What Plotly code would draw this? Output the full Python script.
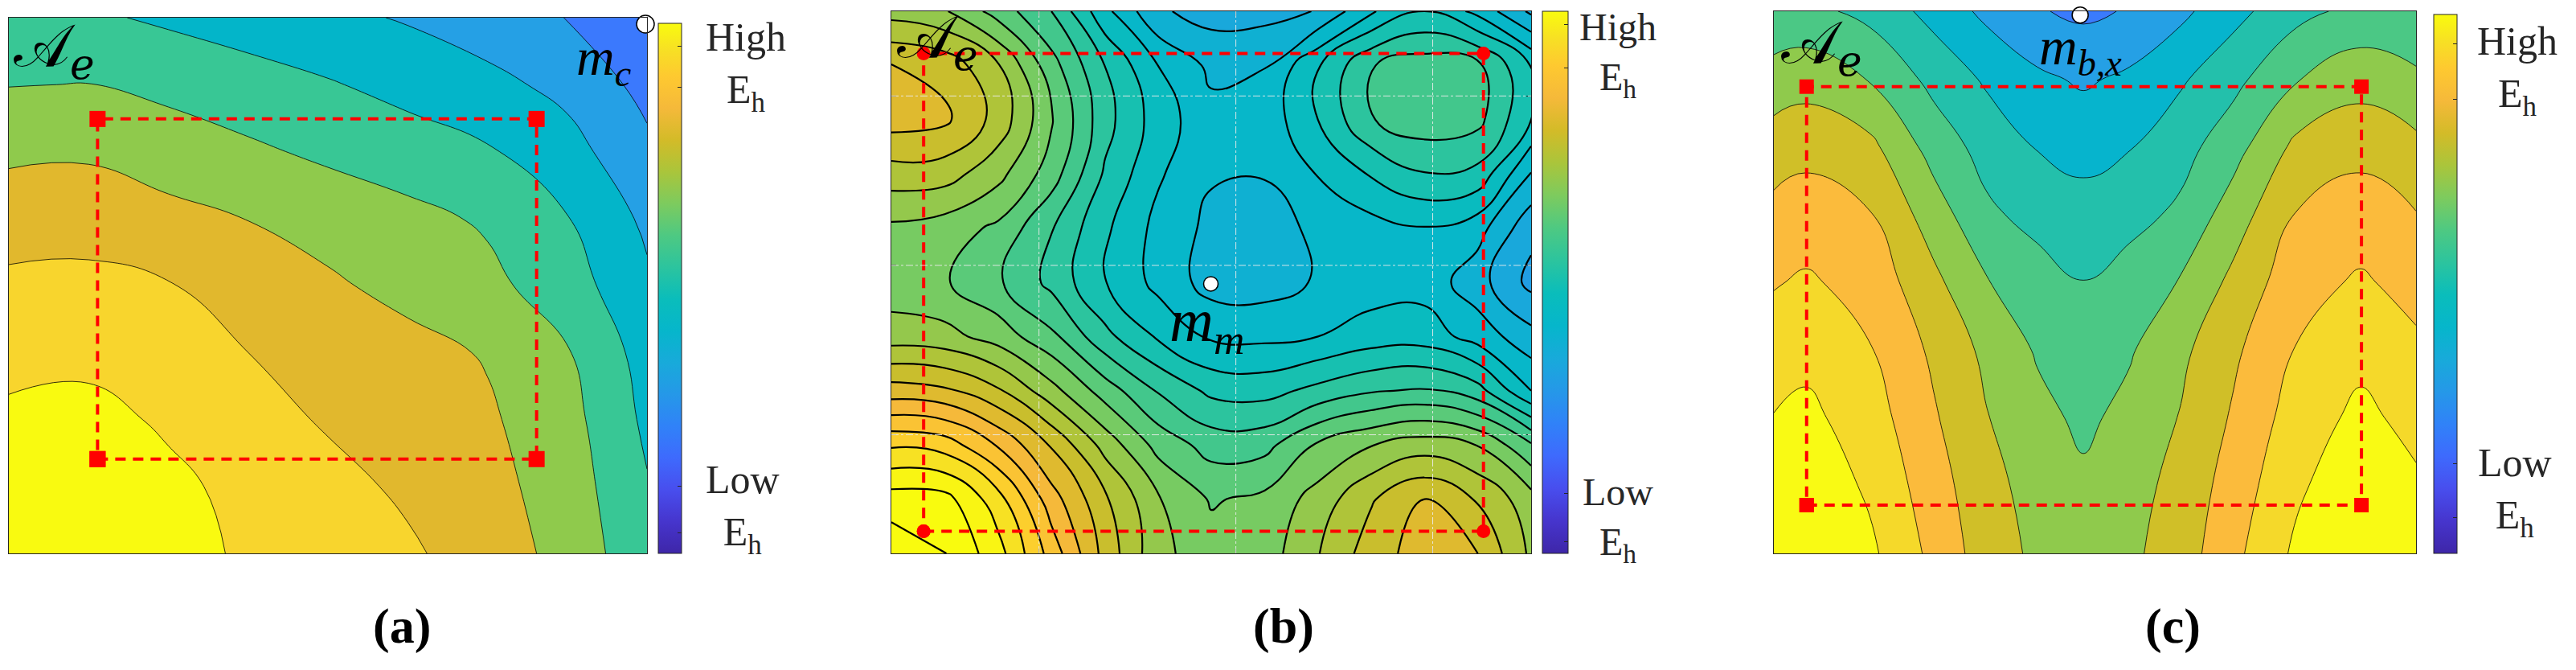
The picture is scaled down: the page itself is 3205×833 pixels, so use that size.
import plotly.graph_objects as go

W, H = 3205, 833

# ---------------- panel (a): energy map ----------------
A_X = [0.0, 0.125, 0.25, 0.375, 0.5, 0.625, 0.75, 0.875, 1.0]
A_Y = [0.0, 0.125, 0.25, 0.375, 0.5, 0.625, 0.75, 0.875, 1.0]
A_Z = [
    [8.0, 8.1, 7.3, 6.88, 6.49, 6.14, 5.56, 4.65, 3.3],
    [7.6, 7.7, 7.2, 6.75, 6.29, 5.84, 5.33, 4.52, 3.07],
    [7.18, 7.27, 6.87, 6.36, 5.9, 5.52, 5.14, 4.36, 2.8],
    [6.7, 6.77, 6.4, 6.0, 5.66, 5.32, 4.92, 4.07, 2.6],
    [6.2, 6.25, 6.05, 5.6, 5.15, 4.7, 4.25, 3.48, 2.17],
    [5.56, 5.6, 5.28, 4.98, 4.62, 4.28, 3.87, 3.04, 1.8],
    [4.81, 4.86, 4.52, 4.17, 3.81, 3.46, 3.1, 2.38, 1.22],
    [3.97, 4.02, 3.74, 3.41, 3.08, 2.69, 2.29, 1.71, 0.7],
    [3.35, 3.15, 2.84, 2.54, 2.24, 1.91, 1.45, 0.98, 0.4],
]
A_RECT_X = [0.139, 0.827]
A_RECT_Y = [0.176, 0.811]
A_MIN = [0.9975, 0.988]

# ---------------- panel (b) ----------------
B_X = [-0.75, -0.479, -0.208, 0.063, 0.333, 0.604, 0.875, 1.146, 1.417, 1.688, 1.958, 2.229, 2.5]
B_Y = [-0.7, -0.38, -0.06, 0.26, 0.58, 0.9, 1.22, 1.54, 1.86, 2.18, 2.5]
B_Z = [
    [30.7, 30.05, 28.4, 25.6, 22.67, 20.3, 19.4, 19.5, 20.95, 22.5, 23.5, 23.0, 20.8],
    [29.48, 29.37, 27.42, 24.44, 22.2, 20.1, 18.9, 19.25, 20.4, 21.9, 23.0, 21.9, 20.4],
    [26.86, 26.55, 24.9, 22.9, 20.65, 18.66, 17.6, 17.67, 19.14, 19.96, 20.5, 19.97, 18.13],
    [23.47, 23.2, 22.15, 20.37, 18.55, 16.92, 15.76, 15.63, 16.3, 16.9, 17.14, 16.4, 14.0],
    [20.5, 20.34, 19.56, 18.25, 16.3, 14.87, 13.84, 13.77, 14.0, 14.48, 14.53, 13.58, 12.34],
    [19.4, 19.1, 18.14, 16.72, 15.05, 13.7, 12.6, 12.55, 13.1, 13.5, 13.6, 12.4, 10.7],
    [19.8, 19.5, 18.8, 17.05, 15.2, 13.7, 12.75, 12.6, 13.2, 13.6, 13.95, 13.4, 11.3],
    [21.54, 21.45, 20.32, 18.5, 15.88, 14.14, 13.1, 13.05, 14.05, 15.1, 15.95, 15.7, 12.95],
    [23.45, 23.2, 21.64, 19.12, 16.38, 14.52, 13.3, 13.35, 15.0, 16.95, 17.6, 17.3, 15.0],
    [23.05, 22.65, 21.1, 18.4, 16.0, 14.0, 12.78, 12.96, 14.9, 16.95, 17.55, 17.25, 14.95],
    [20.6, 20.1, 18.56, 17.0, 14.3, 12.15, 11.6, 11.65, 12.05, 13.9, 15.0, 13.7, 11.8],
]
B_RECT_X = [-0.586, 2.258]
B_RECT_Y = [-0.569, 2.251]
B_MIN = [0.873, 0.891]
B_GRID = [0, 1, 2]

# ---------------- panel (c) ----------------
C_X = [0.0, 0.05, 0.15, 0.25, 0.33, 0.41, 0.482, 0.554, 0.634, 0.714, 0.814, 0.914, 1.0]
C_Y = [0.0, 0.125, 0.25, 0.375, 0.5, 0.625, 0.75, 0.875, 1.0]
C_Z = [
    [10.1, 10.3, 9.2, 7.72, 6.51, 5.8, 5.55, 5.8, 6.51, 7.72, 9.2, 10.3, 9.8],
    [9.55, 9.75, 8.82, 7.44, 6.31, 5.65, 5.18, 5.65, 6.31, 7.44, 8.82, 9.75, 9.17],
    [9.04, 9.25, 8.47, 7.1, 6.06, 5.29, 4.8, 5.29, 6.06, 7.1, 8.47, 9.25, 8.67],
    [8.5, 8.7, 8.05, 6.8, 5.78, 4.9, 4.4, 4.9, 5.78, 6.8, 8.05, 8.7, 8.2],
    [7.93, 8.13, 7.64, 6.23, 5.07, 4.48, 4.02, 4.48, 5.07, 6.23, 7.64, 8.13, 7.65],
    [7.3, 7.48, 7.05, 5.48, 4.21, 3.65, 3.38, 3.65, 4.21, 5.48, 7.05, 7.48, 7.04],
    [6.47, 6.7, 6.25, 4.58, 3.63, 2.95, 2.68, 2.95, 3.63, 4.58, 6.25, 6.7, 6.25],
    [5.45, 5.6, 4.94, 3.69, 2.87, 2.2, 1.86, 2.2, 2.87, 3.69, 4.94, 5.6, 5.21],
    [4.2, 4.3, 3.7, 2.66, 1.77, 1.08, 0.8, 1.08, 1.77, 2.66, 3.7, 4.3, 4.1],
]
C_RECT_X = [0.051, 0.915]
C_RECT_Y = [0.089, 0.861]
C_MIN = [0.477, 0.993]

# ---------------- colours ----------------
PARULA = [
    [0.00, (62, 38, 168)], [0.06, (70, 53, 205)], [0.12, (72, 78, 238)],
    [0.18, (62, 106, 253)], [0.24, (48, 130, 248)], [0.30, (37, 152, 232)],
    [0.36, (24, 170, 218)], [0.42, (6, 182, 203)], [0.48, (10, 189, 187)],
    [0.54, (44, 196, 158)], [0.60, (78, 201, 130)], [0.66, (125, 203, 94)],
    [0.72, (170, 197, 59)], [0.78, (211, 187, 40)], [0.84, (245, 185, 58)],
    [0.90, (254, 201, 48)], [0.95, (247, 224, 36)], [1.00, (249, 251, 14)],
]
PARULA_SCALE = [[p, "rgb(%d,%d,%d)" % c] for p, c in PARULA]


def parula_at(f):
    f = min(1.0, max(0.0, f))
    for (p0, c0), (p1, c1) in zip(PARULA[:-1], PARULA[1:]):
        if f <= p1:
            t = (f - p0) / (p1 - p0)
            return "rgb(%d,%d,%d)" % tuple(round(a + (b - a) * t) for a, b in zip(c0, c1))
    return "rgb(249,251,14)"


def band_scale(colors):
    n = len(colors) - 1
    return [[i / n, c] for i, c in enumerate(colors)]


A_BANDS = ["#3b79fd", "#25a0e5", "#03b5c9", "#38c795", "#8fca4c", "#e1b82d", "#f8d52d", "#f9fa10"]
C_BANDS = ["#3a7bfd", "#25a0e5", "#06b4cd", "#23c0ab", "#4bc885", "#8fca4c", "#d0bf28",
           "#fbbb3c", "#f5d92a", "#f9fa14"]
B_BANDS = [parula_at((k - 1.5) * 0.0373) for k in range(32)]

SERIF = "Liberation Serif"
RED = "#ff0000"

fig = go.Figure()


def add_panel(n, xs, ys, zs, levels, bands, lw, rect_x, rect_y, mark, msize, dmin, dsize, cb):
    xa, ya = "x" + n, "y" + n
    fig.add_trace(go.Contour(
        x=xs, y=ys, z=zs, xaxis=xa, yaxis=ya,
        contours=dict(start=levels[0], end=levels[1], size=1, coloring="fill"),
        colorscale=band_scale(bands), showscale=False,
        line=dict(color="black", width=lw, smoothing=1.3), hoverinfo="skip"))
    x0, x1 = rect_x
    y0, y1 = rect_y
    fig.add_trace(go.Scatter(
        x=[x0, x1, x1, x0, x0], y=[y0, y0, y1, y1, y0], xaxis=xa, yaxis=ya,
        mode="lines+markers", line=dict(color=RED, width=4, dash="13px,9px"),
        marker=dict(symbol=mark, size=msize, color=RED), hoverinfo="skip"))
    fig.add_trace(go.Scatter(
        x=[dmin[0]], y=[dmin[1]], xaxis=xa, yaxis=ya, mode="markers", cliponaxis=False,
        marker=dict(symbol="circle", size=dsize, color="white", line=dict(color="black", width=1.5)),
        hoverinfo="skip"))
    # continuous colour bar
    cx0, cx1, cy0, cy1, ticks = cb
    fig.add_trace(go.Scatter(
        x=[xs[0]], y=[ys[0]], xaxis=xa, yaxis=ya, mode="markers", hoverinfo="skip",
        marker=dict(size=0.1, opacity=0, color=[0.5], cmin=0, cmax=1,
                    colorscale=PARULA_SCALE, showscale=True,
                    colorbar=dict(x=cx0 / W, xanchor="left", xpad=0, ypad=0,
                                  y=1 - (cy0 + cy1) / 2 / H, yanchor="middle",
                                  len=(cy1 - cy0) / H, lenmode="fraction",
                                  thickness=cx1 - cx0, thicknessmode="pixels",
                                  outlinewidth=1, outlinecolor="#262626",
                                  tickmode="array", tickvals=ticks, ticks="inside",
                                  ticklen=5, tickcolor="#262626", showticklabels=False))))


add_panel("", A_X, A_Y, A_Z, (1, 7), A_BANDS, 0.8, A_RECT_X, A_RECT_Y, "square", 20,
          A_MIN, 22, (819, 848, 29, 688, [0.038, 0.127, 0.88, 0.957]))
add_panel("2", B_X, B_Y, B_Z, (1, 31), B_BANDS, 2.2, B_RECT_X, B_RECT_Y, "circle", 17,
          B_MIN, 18, (1919, 1951, 14, 688, [0.022, 0.11, 0.895, 0.975]))
add_panel("3", C_X, C_Y, C_Z, (1, 9), C_BANDS, 0.8, C_RECT_X, C_RECT_Y, "square", 18,
          C_MIN, 20, (3028, 3057, 18, 688, [0.067, 0.166, 0.843, 0.946]))


def axis(px0, px1, rng, anchor):
    return dict(domain=[px0, px1], range=rng, anchor=anchor, showgrid=False, zeroline=False,
                showticklabels=False, ticks="", showline=True, mirror=True,
                linecolor="#262626", linewidth=1)


layout = dict(
    width=W, height=H, margin=dict(l=0, r=0, t=0, b=0),
    paper_bgcolor="white", plot_bgcolor="white", showlegend=False, hovermode=False,
    xaxis=axis(11 / W, 805 / W, [0, 1], "y"),
    yaxis=axis(1 - 688 / H, 1 - 22 / H, [0, 1], "x"),
    xaxis2=axis(1109 / W, 1905 / W, [-0.75, 2.5], "y2"),
    yaxis2=axis(1 - 688 / H, 1 - 14 / H, [-0.7, 2.5], "x2"),
    xaxis3=axis(2207 / W, 3006 / W, [0, 1], "y3"),
    yaxis3=axis(1 - 688 / H, 1 - 14 / H, [0, 1], "x3"),
)
fig.update_layout(**layout)
for ax in ("xaxis2", "yaxis2"):
    fig.layout[ax].update(ticks="inside", ticklen=6, tickcolor="#262626",
                          tickvals=B_GRID, mirror="ticks")

# dash-dot grid of panel (b), drawn above the filled contours
for g in B_GRID:
    fig.add_shape(type="line", xref="x2", yref="y2 domain", x0=g, x1=g, y0=0, y1=1,
                  line=dict(color="rgba(235,235,235,0.9)", width=1, dash="dashdot"), layer="above")
    fig.add_shape(type="line", xref="x2 domain", yref="y2", x0=0, x1=1, y0=g, y1=g,
                  line=dict(color="rgba(235,235,235,0.9)", width=1, dash="dashdot"), layer="above")

ann = []


def text(px, py, s, size, anchor="center", color="#1a1a1a", family=SERIF):
    ann.append(dict(x=px / W, y=1 - py / H, xref="paper", yref="paper", text=s, showarrow=False,
                    xanchor=anchor, yanchor="middle", align="center",
                    font=dict(family=family, size=size, color=color)))


# colour-bar end labels, one two-line block each
for hx, hy, lx, ly, fs in [(928, 82, 924, 632, 50), (2013, 68, 2013, 646, 48),
                           (3132, 88, 3129, 611, 50)]:
    text(hx, hy, "High<br>E<sub>h</sub>", fs, color="#262626")
    text(lx, ly, "Low<br>E<sub>h</sub>", fs, color="#262626")

AE = "𝒜<sub><i>e</i></sub>"
text(15, 61, AE, 74, anchor="left", color="black", family="DejaVu Serif")
text(1114, 50, AE, 74, anchor="left", color="black", family="DejaVu Serif")
text(2214, 57, AE, 74, anchor="left", color="black", family="DejaVu Serif")
text(751, 75, "<i>m</i><sub><i>c</i></sub>", 66, color="black")
text(1501, 404, "<i>m</i><sub><i>m</i></sub>", 76, color="black")
text(2588, 62, "<i>m</i><sub><i>b,x</i></sub>", 66, color="black")

for lab, px in (("(a)", 500), ("(b)", 1597), ("(c)", 2703)):
    text(px, 778, "<b>%s</b>" % lab, 62, color="black")

fig.update_layout(annotations=ann)

fig.write_html("out.html", config={"displayModeBar": False},
               post_script="document.body.style.margin='0';document.body.style.overflow='hidden';")
